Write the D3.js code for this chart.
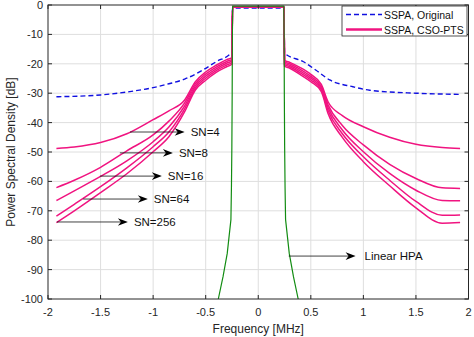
<!DOCTYPE html>
<html>
<head>
<meta charset="utf-8">
<script src="https://cdn.jsdelivr.net/npm/d3@7"></script>
<style>
    body { margin: 0; background: #fff; }
    svg { display: block; font-family: 'Liberation Sans', Arial, sans-serif; }
</style>
</head>
<body>
<div class="chart-container"></div>
<script>
const xTicks = [-2, -1.5, -1, -0.5, 0, 0.5, 1, 1.5, 2]
const yTicks = [0, -10, -20, -30, -40, -50, -60, -70, -80, -90, -100]

// SSPA, Original (blue dashed)
const origFreq = [-1.92, -1.5, -1.25, -1.0, -0.85, -0.7, -0.55, -0.4, -0.25, -0.245, 0.245, 0.25, 0.43, 0.55, 0.68, 0.9, 1.06, 1.5, 1.92]
const origDb = [-31.2, -30.6, -29.6, -28.1, -26.8, -25.2, -22.6, -19.3, -16.0, -1.0, -1.0, -16.4, -19.3, -22.2, -25.5, -27.8, -29.0, -30.0, -30.4]

// SSPA, CSO-PTS for the five SN values
const csoFreq = [-1.92, -1.75, -1.5, -1.25, -1.0, -0.85, -0.7, -0.6, -0.5, -0.4, -0.3, -0.25, -0.245, 0.245, 0.25, 0.3, 0.4, 0.5, 0.6, 0.665, 0.8, 1.0, 1.25, 1.5, 1.75, 1.92]
const cso4 = [-48.8, -48.3, -46.8, -43.8, -39.0, -36.0, -32.3, -26.2, -22.8, -20.5, -18.6, -17.9, -0.8, -0.8, -18.8, -19.5, -21.3, -23.6, -27.0, -33.0, -37.6, -41.4, -45.0, -47.4, -48.5, -48.8]
const cso8 = [-62.1, -59.6, -55.2, -49.6, -44.2, -39.5, -33.3, -26.9, -23.5, -21.1, -19.2, -18.45, -0.8, -0.8, -19.3, -20.0, -21.9, -24.3, -27.7, -34.0, -41.0, -47.6, -54.2, -59.0, -62.2, -62.4]
const cso16 = [-66.5, -63.2, -58.3, -53.0, -46.5, -41.5, -34.3, -27.6, -24.2, -21.7, -19.8, -19.0, -0.8, -0.8, -19.8, -20.5, -22.5, -24.9, -28.3, -35.0, -42.5, -49.9, -57.3, -63.0, -66.5, -66.6]
const cso64 = [-71.8, -67.8, -61.8, -55.4, -48.2, -43.2, -35.3, -28.3, -24.9, -22.3, -20.4, -19.55, -0.8, -0.8, -20.3, -21.0, -23.1, -25.5, -28.9, -36.0, -43.8, -51.6, -59.6, -66.8, -71.5, -71.4]
const cso256 = [-74.0, -70.0, -63.8, -57.4, -49.9, -44.8, -36.3, -29.0, -25.6, -22.9, -21.0, -20.1, -0.8, -0.8, -20.8, -21.5, -23.7, -26.1, -29.5, -37.0, -45.0, -53.3, -61.5, -69.0, -74.2, -74.0]

// Linear HPA (green)
const linFreq = [-0.38, -0.335, -0.295, -0.26, -0.255, -0.251, -0.248, -0.246, -0.243, 0.243, 0.246, 0.248, 0.251, 0.255, 0.26, 0.295, 0.335, 0.38]
const linDb = [-100, -92.4, -84.5, -73, -62, -48, -30, -10, -0.4, -0.4, -10, -30, -48, -62, -73, -84.5, -92.4, -100]

// annotation arrows: label, start freq, end freq, level
const snLabels = ['SN=4', 'SN=8', 'SN=16', 'SN=64', 'SN=256']
const snFrom = [-1.22, -1.316, -1.506, -1.665, -1.915]
const snTo = [-0.70, -0.812, -0.917, -1.05, -1.24]
const snLevel = [-43.2, -50.3, -58.2, -66.0, -73.8]
const hpaLabel = 'Linear HPA'
const hpaFrom = 0.29
const hpaTo = 0.926
const hpaLevel = -85.4

const width = 474
const height = 337
const margin = { top: 5, right: 5.5, bottom: 38, left: 48 }

const x = d3.scaleLinear().domain([-2, 2]).range([margin.left, width - margin.right])
const y = d3.scaleLinear().domain([-100, 0]).range([height - margin.bottom, margin.top])

const PINK = '#f01480'
const BLUE = '#1010e0'
const GREEN = '#128c12'
const AXIS = '#262626'

const svg = d3
    .select('.chart-container')
    .append('svg')
    .attr('width', width)
    .attr('height', height)

svg.append('clipPath')
    .attr('id', 'plot-clip')
    .append('rect')
    .attr('x', margin.left)
    .attr('y', margin.top)
    .attr('width', width - margin.left - margin.right)
    .attr('height', height - margin.top - margin.bottom)

// grid
const grid = svg.append('g').attr('stroke', '#dedede').attr('stroke-width', 1)
grid.selectAll('line.vx')
    .data(xTicks.slice(1, -1))
    .enter()
    .append('line')
    .attr('x1', d => x(d))
    .attr('x2', d => x(d))
    .attr('y1', y(-100))
    .attr('y2', y(0))
grid.selectAll('line.hy')
    .data(yTicks.slice(1, -1))
    .enter()
    .append('line')
    .attr('y1', d => y(d))
    .attr('y2', d => y(d))
    .attr('x1', x(-2))
    .attr('x2', x(2))

const line = d3
    .line()
    .x(d => x(d[0]))
    .y(d => y(d[1]))
    .curve(d3.curveMonotoneX)

const plot = svg.append('g').attr('clip-path', 'url(#plot-clip)')

plot.append('path')
    .datum(d3.zip(origFreq, origDb))
    .attr('d', line)
    .attr('fill', 'none')
    .attr('stroke', BLUE)
    .attr('stroke-width', 1.4)
    .attr('stroke-dasharray', '5,3')

const csoSeries = [cso4, cso8, cso16, cso64, cso256]
plot.selectAll('path.cso')
    .data(csoSeries)
    .enter()
    .append('path')
    .attr('class', 'cso')
    .attr('d', s => line(d3.zip(csoFreq, s)))
    .attr('fill', 'none')
    .attr('stroke', PINK)
    .attr('stroke-width', 1.5)

plot.append('path')
    .datum(d3.zip(linFreq, linDb))
    .attr('d', line.curve(d3.curveLinear))
    .attr('fill', 'none')
    .attr('stroke', GREEN)
    .attr('stroke-width', 1.2)

// annotation arrows
function arrow(g, f0, f1, level) {
    const x0 = x(f0)
    const x1 = x(f1)
    const yy = y(level)
    g.append('line')
        .attr('x1', x0)
        .attr('x2', x1 - 6)
        .attr('y1', yy)
        .attr('y2', yy)
        .attr('stroke', '#111')
        .attr('stroke-width', 0.8)
    g.append('path')
        .attr('d', `M${x1},${yy} L${x1 - 10},${yy - 3.8} L${x1 - 7},${yy} L${x1 - 10},${yy + 3.8} Z`)
        .attr('fill', '#000')
}

const notes = svg.append('g')
snLabels.forEach((label, i) => {
    arrow(notes, snFrom[i], snTo[i], snLevel[i])
    notes.append('text')
        .attr('x', x(snTo[i]) + 6)
        .attr('y', y(snLevel[i]) + 4)
        .attr('font-size', '11.5px')
        .attr('fill', '#111')
        .text(label)
})
arrow(notes, hpaFrom, hpaTo, hpaLevel)
notes.append('text')
    .attr('x', x(hpaTo) + 9)
    .attr('y', y(hpaLevel) + 4)
    .attr('font-size', '11.5px')
    .attr('fill', '#111')
    .text(hpaLabel)

// axes box and inward ticks
const TICK = 4
const axes = svg.append('g').attr('stroke', AXIS).attr('stroke-width', 1)
axes.append('rect')
    .attr('x', x(-2))
    .attr('y', y(0))
    .attr('width', x(2) - x(-2))
    .attr('height', y(-100) - y(0))
    .attr('fill', 'none')
xTicks.forEach(t => {
    axes.append('line').attr('x1', x(t)).attr('x2', x(t)).attr('y1', y(-100)).attr('y2', y(-100) - TICK)
    axes.append('line').attr('x1', x(t)).attr('x2', x(t)).attr('y1', y(0)).attr('y2', y(0) + TICK)
})
yTicks.forEach(t => {
    axes.append('line').attr('y1', y(t)).attr('y2', y(t)).attr('x1', x(-2)).attr('x2', x(-2) + TICK)
    axes.append('line').attr('y1', y(t)).attr('y2', y(t)).attr('x1', x(2)).attr('x2', x(2) - TICK)
})

svg.append('g')
    .selectAll('text')
    .data(xTicks)
    .enter()
    .append('text')
    .attr('x', d => x(d))
    .attr('y', y(-100) + 17)
    .attr('text-anchor', 'middle')
    .attr('font-size', '11px')
    .attr('fill', AXIS)
    .text(d => d)

svg.append('g')
    .selectAll('text')
    .data(yTicks)
    .enter()
    .append('text')
    .attr('x', x(-2) - 5)
    .attr('y', d => y(d) + 4)
    .attr('text-anchor', 'end')
    .attr('font-size', '11px')
    .attr('fill', AXIS)
    .text(d => d)

svg.append('text')
    .attr('x', (x(-2) + x(2)) / 2)
    .attr('y', height - 4)
    .attr('text-anchor', 'middle')
    .attr('font-size', '12px')
    .attr('fill', AXIS)
    .text('Frequency [MHz]')

svg.append('text')
    .attr('transform', `translate(15,${(y(0) + y(-100)) / 2}) rotate(-90)`)
    .attr('text-anchor', 'middle')
    .attr('font-size', '12px')
    .attr('fill', AXIS)
    .text('Power Spectral Density [dB]')

// legend
const legend = svg.append('g').attr('transform', 'translate(342,6)')
legend.append('rect')
    .attr('width', 125)
    .attr('height', 30)
    .attr('fill', '#fff')
    .attr('stroke', AXIS)
    .attr('stroke-width', 0.8)
const legendItems = [
    { name: 'SSPA, Original', color: BLUE, dash: '5,3', w: 1.4 },
    { name: 'SSPA, CSO-PTS', color: PINK, dash: null, w: 2.5 }
]
legendItems.forEach((item, i) => {
    const ly = 8.5 + i * 15
    legend.append('line')
        .attr('x1', 4)
        .attr('x2', 40)
        .attr('y1', ly)
        .attr('y2', ly)
        .attr('stroke', item.color)
        .attr('stroke-width', item.w)
        .attr('stroke-dasharray', item.dash)
    legend.append('text')
        .attr('x', 42)
        .attr('y', ly + 4)
        .attr('font-size', '10.5px')
        .attr('fill', '#111')
        .text(item.name)
})
</script>
</body>
</html>
